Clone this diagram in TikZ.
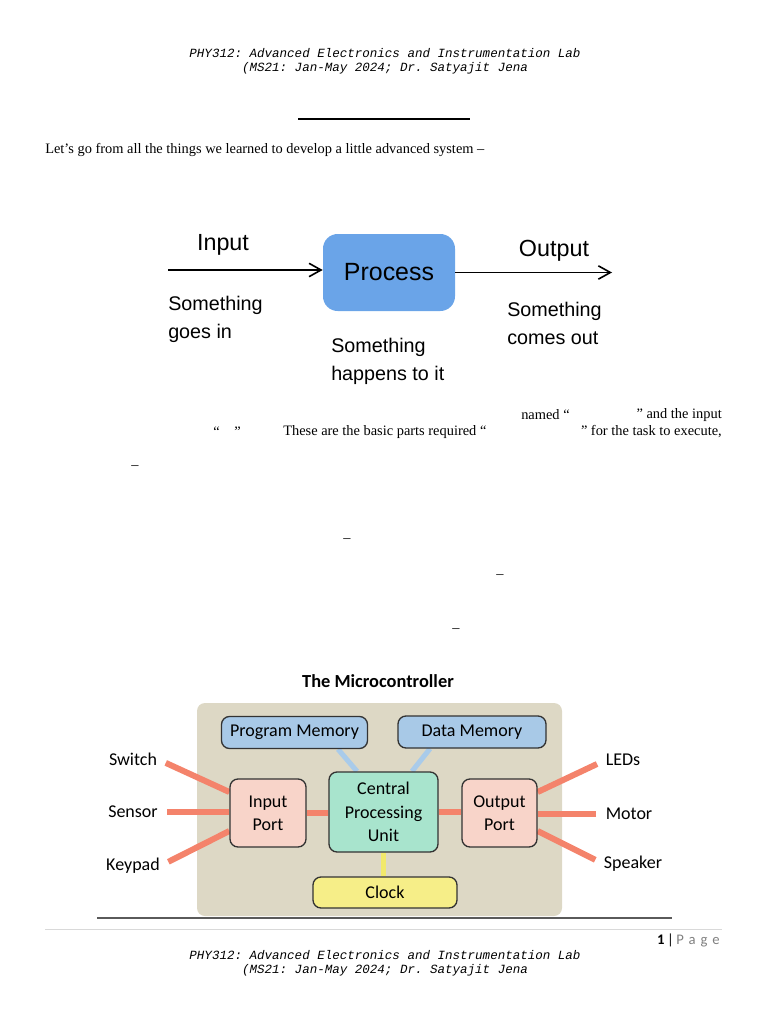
\documentclass[tikz,border=0pt]{standalone}
\usepackage{fontspec}
\setmainfont{Liberation Serif}
\setmonofont{Liberation Mono}
\newfontfamily\arialfont{Liberation Sans}
\newfontfamily\califont{Carlito}
\usetikzlibrary{arrows.meta,positioning,calc,backgrounds}
\definecolor{procblue}{HTML}{6AA4E8}
\definecolor{chipbeige}{HTML}{DDD8C5}
\definecolor{memblue}{HTML}{A8C9E7}
\definecolor{portpink}{HTML}{F8D4C9}
\definecolor{cpugreen}{HTML}{A8E4CD}
\definecolor{clockyellow}{HTML}{F6EE88}
\definecolor{wiresalmon}{HTML}{F4836B}
\definecolor{wireblue}{HTML}{A9CBEA}
\definecolor{wireyellow}{HTML}{F1E96C}
\definecolor{rulegrey}{HTML}{5A5A5A}
\begin{document}
\begin{tikzpicture}[x=0.75pt, y=-0.75pt,
  hdr/.style={font=\fontsize{9.4}{11}\selectfont\ttfamily\itshape, inner sep=0pt},
  body/.style={font=\fontsize{10.8}{12}\selectfont, inner sep=0pt, anchor=west},
  flowlbl/.style={font=\arialfont\fontsize{17.5}{20}\selectfont, inner sep=0pt},
  flownote/.style={font=\arialfont\fontsize{14.8}{21}\selectfont, align=left, anchor=west, inner sep=0pt},
  flowarr/.style={-{Straight Barb[length=9pt,width=10pt]}, line width=1.2pt},
  block/.style={draw=black!80, line width=1pt, rounded corners=6pt, align=center, inner sep=0pt, font=\califont\fontsize{13.5}{17.5}\selectfont},
  dev/.style={font=\califont\fontsize{13.5}{15}\selectfont, inner sep=0pt},
  wire/.style={wiresalmon, line width=4.5pt},
  membus/.style={wireblue, line width=3.8pt}
]
\useasboundingbox (0,0) rectangle (768,1024);

\node[hdr] (hdrA) at (385,53) {PHY312: Advanced Electronics and Instrumentation Lab};
\node[hdr] (hdrB) at (385,68) {(MS21: Jan-May 2024; Dr. Satyajit Jena};
\draw[line width=1.5pt] (298,119) -- (470,119);
\node[body] (intro) at (45,150) {Let’s go from all the things we learned to develop a little advanced system –};

\node[fill=procblue, rounded corners=11pt, minimum width=99pt, minimum height=57.75pt, font=\arialfont\fontsize{18.7}{20}\selectfont] (process) at (389,272.5) {Process};
\coordinate (inStart) at (168,270);
\coordinate (outEnd) at (612,273);
\draw[flowarr] (inStart) -- (inStart -| process.west);
\draw[flowarr] (process.east) -- (process.east -| outEnd);
\node[flowlbl] (inLbl) at (223,245) {Input};
\node[flowlbl] (outLbl) at (554,251) {Output};
\node[flownote] (inNote) at (168,319) {Something\\goes in};
\node[flownote] (procNote) at (331,361) {Something\\happens to it};
\node[flownote] (outNote) at (507,323) {Something\\comes out};

\node[body] (fragA) at (521,415) {named “};
\node[body, anchor=east] (fragB) at (722,415) {” and the input};
\node[body] (fragC) at (213,432) {“};
\node[body] (fragD) at (234,432) {”};
\node[body] (fragE) at (283,432) {These are the basic parts required “};
\node[body, anchor=east] (fragF) at (722,432) {” for the task to execute,};
\node[body, anchor=center] (dashA) at (135,468) {–};
\node[body, anchor=center] (dashB) at (347,541) {–};
\node[body, anchor=center] (dashC) at (500,577) {–};
\node[body, anchor=center] (dashD) at (456,631) {–};

\node[font=\califont\bfseries\fontsize{13.8}{15}\selectfont, inner sep=0pt] (mcTitle) at (378,681) {The Microcontroller};
\begin{scope}[on background layer]
\node[fill=chipbeige, rounded corners=6pt, minimum width=273.75pt, minimum height=159.75pt] (chip) at (379.5,809.5) {};
\end{scope}
\node[block, fill=memblue, minimum width=109.5pt, minimum height=24pt] (pmem) at (294.5,732.5) {Program Memory};
\node[block, fill=memblue, minimum width=111pt, minimum height=24pt] (dmem) at (472,732) {Data Memory};
\node[block, fill=portpink, minimum width=57pt, minimum height=51pt] (inport) at (268,813) {Input\\Port};
\node[block, fill=cpugreen, minimum width=81.75pt, minimum height=60pt] (cpu) at (383.5,812) {Central\\Processing\\Unit};
\node[block, fill=portpink, minimum width=56.25pt, minimum height=51pt] (outport) at (499.5,813) {Output\\Port};
\node[block, fill=clockyellow, minimum width=108pt, minimum height=23.25pt] (clock) at (385,892.5) {Clock};

\node[dev] (sw) at (133,759) {Switch};
\node[dev] (sens) at (133,812) {Sensor};
\node[dev] (keys) at (133,866) {Keypad};
\node[dev] (leds) at (623,760) {LEDs};
\node[dev] (motor) at (629,814) {Motor};
\node[dev] (spk) at (633,864) {Speaker};

\begin{scope}[on background layer]
\draw[wire, shorten <=7pt] (sw.east) -- ($(inport.west)+(0,-21)$);
\draw[wire, shorten <=7pt] (sens.east) -- (sens.east -| inport.west);
\draw[wire, shorten <=7pt] (keys.east) -- ($(inport.west)+(0,18)$);
\draw[wire, shorten <=7pt] (leds.west) -- ($(outport.east)+(0,-21)$);
\draw[wire, shorten <=7pt] (motor.west) -- (motor.west -| outport.east);
\draw[wire, shorten <=7pt] (spk.west) -- ($(outport.east)+(0,18)$);
\draw[wire] (inport.east) -- (inport.east -| cpu.west);
\draw[wire] (cpu.east) -- (cpu.east -| outport.west);
\draw[membus] ($(pmem.south)+(43.5,0)$) -- ($(cpu.north)+(-26.5,0)$);
\draw[membus] ($(dmem.south)+(-42,0)$) -- ($(cpu.north)+(28.5,0)$);
\draw[wireyellow, line width=3.8pt] (cpu.south) -- (cpu.south |- clock.north);
\end{scope}

\draw[rulegrey, line width=1.5pt] (97,918) -- (672,918);
\draw[black!15, line width=0.6pt] (45,929) -- (722,929);
\node[font=\califont\fontsize{11}{13}\selectfont, inner sep=0pt, anchor=east] (pageNo) at (720,940) {\textbf{1}\,|\,\textcolor{gray}{P\,\,a\,\,g\,\,e}};
\node[hdr] (ftrA) at (385,955) {PHY312: Advanced Electronics and Instrumentation Lab};
\node[hdr] (ftrB) at (385,970) {(MS21: Jan-May 2024; Dr. Satyajit Jena};
\end{tikzpicture}
\end{document}
